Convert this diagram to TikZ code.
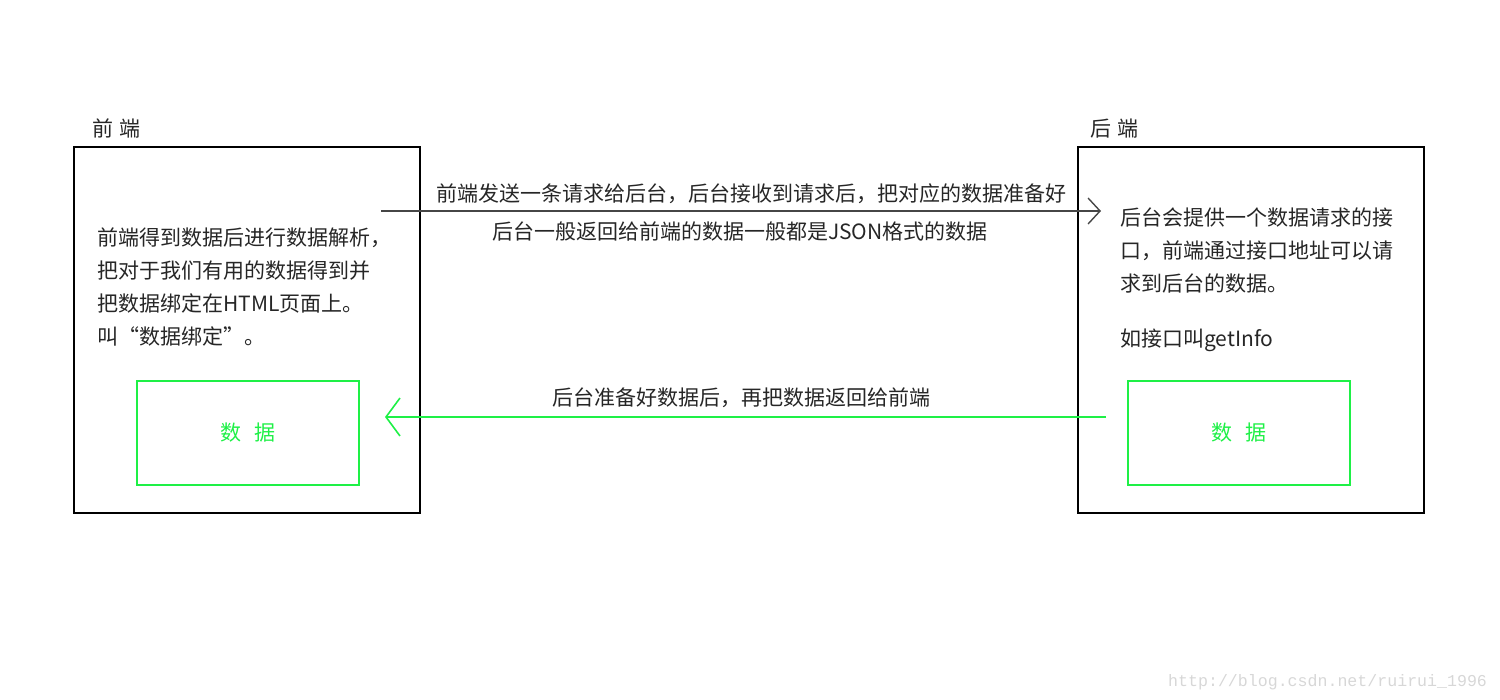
\documentclass[tikz,border=0pt]{standalone}
\usepackage{fontspec}
\setmainfont{Noto Sans CJK SC}
\newfontfamily\wmfont{Liberation Mono}
\usetikzlibrary{arrows.meta}
\definecolor{dgreen}{RGB}{30,240,70}
\definecolor{darrow}{RGB}{70,70,70}
\definecolor{wmgray}{RGB}{215,215,215}
\tikzset{
  box/.style={draw=black,line width=1.6pt},
  gbox/.style={draw=dgreen,line width=2pt},
  txt/.style={inner sep=0pt,anchor=base west,font=\fontsize{21}{24}\selectfont,text=black!85},
  ctxt/.style={inner sep=0pt,anchor=base,font=\fontsize{21}{24}\selectfont,text=black!85},
  gtxt/.style={inner sep=0pt,font=\fontsize{21}{24}\selectfont,text=dgreen},
  req/.style={draw=darrow,line width=1.4pt,-{Straight Barb[length=12pt,width=26pt,line width=1.4pt]}},
  resp/.style={draw=dgreen,line width=1.6pt,-{Straight Barb[length=14pt,width=38pt,line width=1.6pt]}},
}
\begin{document}
\begin{tikzpicture}[x=1pt,y=-1pt]
\useasboundingbox (0,0) rectangle (1500,700);
% boxes
\draw[box] (74,147) rectangle (420,513);
\draw[box] (1078,147) rectangle (1424,513);
\node[txt] (fl) at (92,137) {前\hspace{0.3em}端};
\node[txt] (bl) at (1090,137) {后\hspace{0.3em}端};
% green boxes
\node[gbox,minimum width=222pt,minimum height=104pt,anchor=north west] (fd) at (136,380) {};
\node[gbox,minimum width=222pt,minimum height=104pt,anchor=north west] (bd) at (1127,380) {};
\node[gtxt] (fdt) at (fd.center) {数\hspace{0.6em}据};
\node[gtxt] (bdt) at (bd.center) {数\hspace{0.6em}据};
% front text
\node[txt] (f1) at (97,246) {前端得到数据后进行数据解析，};
\node[txt] (f2) at (97,279) {把对于我们有用的数据得到并};
\node[txt] (f3) at (97,312) {把数据绑定在HTML页面上。};
\node[txt] (f4) at (97,345) {叫“数据绑定”。};
% back text
\node[txt] (b1) at (1120,226) {后台会提供一个数据请求的接};
\node[txt] (b2) at (1120,259) {口，前端通过接口地址可以请};
\node[txt] (b3) at (1120,292) {求到后台的数据。};
\node[txt] (b4) at (1120,347) {如接口叫getInfo};
% request arrow
\coordinate (reqS) at (381,211);
\coordinate (reqE) at (1101,211);
\draw[req] (reqS) -- (reqE);
\node[ctxt] (q1) at (751,202) {前端发送一条请求给后台，后台接收到请求后，把对应的数据准备好};
\node[ctxt] (q2) at (740,240) {后台一般返回给前端的数据一般都是JSON格式的数据};
% response arrow
\coordinate (resS) at (1106,417);
\coordinate (resE) at (385,417);
\draw[resp] (resS) -- (resE);
\node[ctxt] (r1) at (741,406) {后台准备好数据后，再把数据返回给前端};
% watermark
\node[inner sep=0pt,anchor=base west,font=\wmfont\fontsize{16.6}{20}\selectfont,text=wmgray] (wm) at (1168,686) {http://blog.csdn.net/ruirui\_1996};
\end{tikzpicture}
\end{document}
